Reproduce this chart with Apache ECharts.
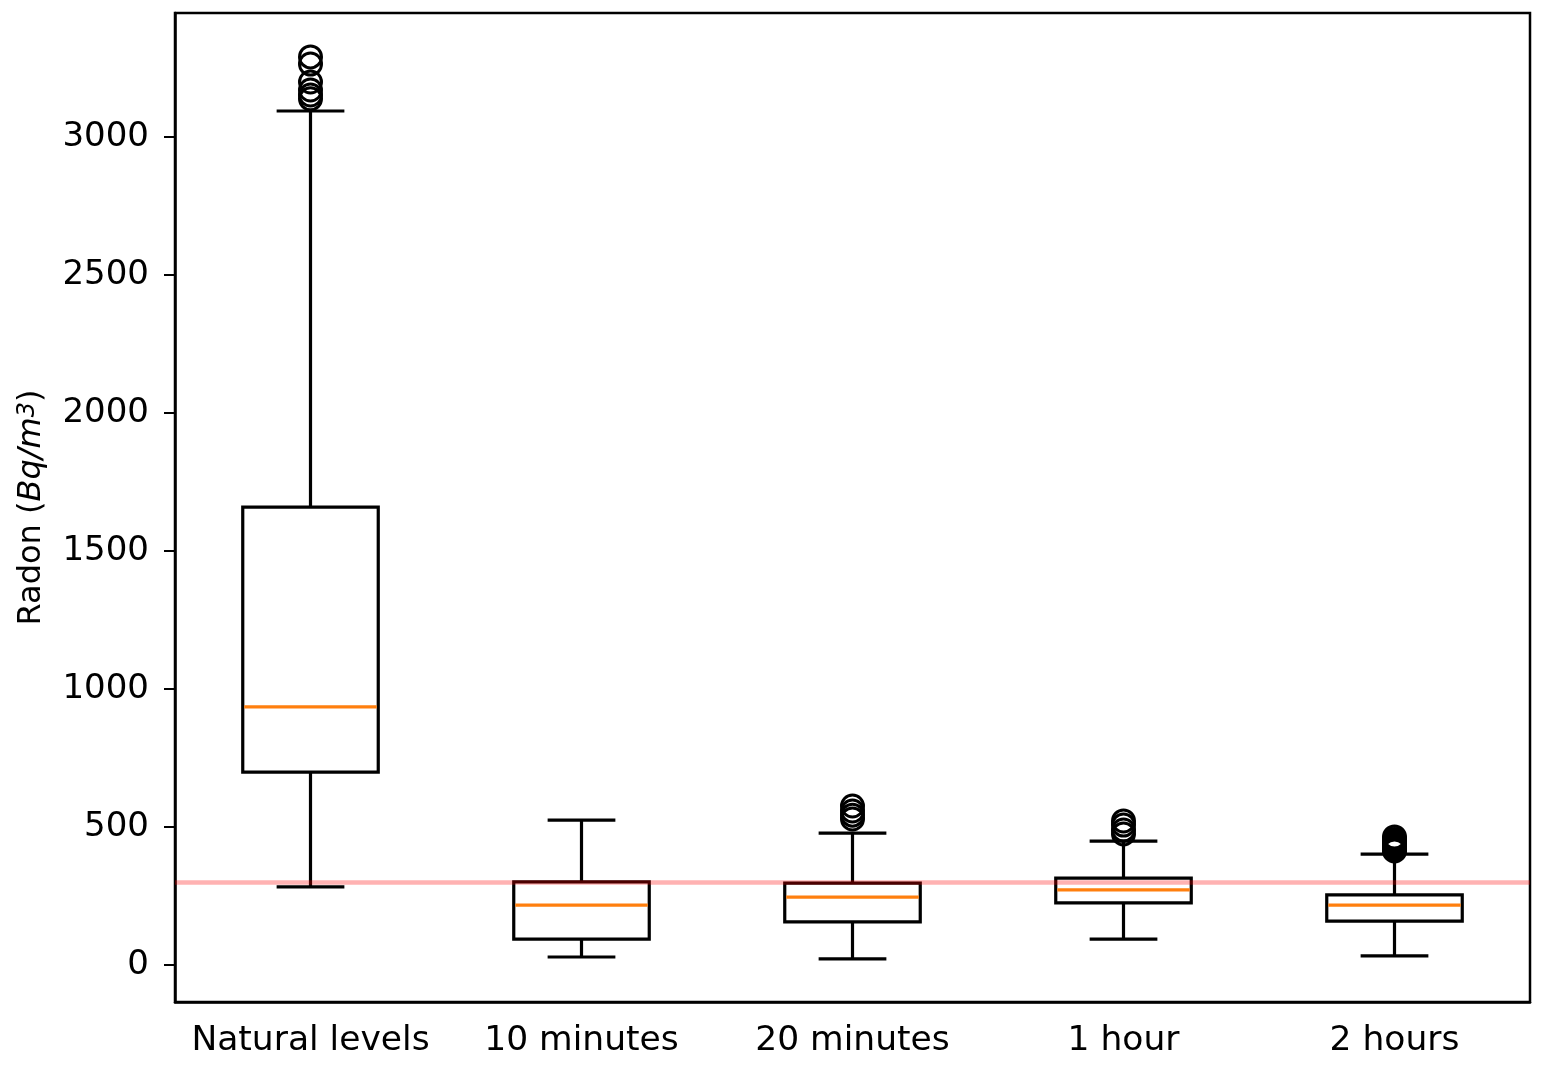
<!DOCTYPE html>
<html>
<head>
<meta charset="utf-8">
<script src="https://cdn.jsdelivr.net/npm/echarts@6/dist/echarts.min.js"></script>
<style>
html,body{margin:0;padding:0;background:#fff;}
#chart{width:1548px;height:1076px;}
</style>
</head>
<body>
<div id="chart"></div>
<script>
const categories = ['Natural levels', '10 minutes', '20 minutes', '1 hour', '2 hours'];
const whiskerLow  = [283, 29, 22, 94, 33];
const q1          = [699, 94, 156, 225, 159];
const median      = [935, 217, 246, 272, 217];
const q3          = [1659, 301, 297, 315, 254];
const whiskerHigh = [3094, 525, 478, 449, 402];
const outliers = [
  [3290, 3264, 3199, 3170, 3152, 3138],
  [],
  [576, 558, 543, 529],
  [522, 507, 489, 475],
  [464, 455, 447, 440, 432, 425, 418, 413]
];
const referenceLevel = 300;
const yTicks = [0, 500, 1000, 1500, 2000, 2500, 3000];

const FONT = 'DejaVu Sans';
const boxData = categories.map((c, i) => [i, whiskerLow[i], q1[i], median[i], q3[i], whiskerHigh[i]]);
const outlierData = [];
outliers.forEach((arr, i) => arr.forEach(v => outlierData.push([i, v])));

const chart = echarts.init(document.getElementById('chart'));
const LW = 3.2;
chart.setOption({
  animation: false,
  backgroundColor: '#fff',
  grid: {left: 175, right: 18, top: 13, bottom: 74, show: true, borderColor: '#000', borderWidth: 2.5, backgroundColor: 'transparent'},
  xAxis: {
    type: 'category',
    data: categories,
    boundaryGap: true,
    axisLine: {onZero: false, lineStyle: {color: '#000', width: 2.5}},
    axisTick: {alignWithLabel: true, interval: 0, length: 11, lineStyle: {color: '#000', width: 2}},
    axisLabel: {interval: 0, color: '#000', fontFamily: FONT, fontSize: 34.5, margin: 22},
    splitLine: {show: false}
  },
  yAxis: {
    type: 'value',
    min: -134,
    max: 3449,
    axisLine: {show: true, lineStyle: {color: '#000', width: 2.5}},
    axisTick: {show: true, length: 11, customValues: yTicks, lineStyle: {color: '#000', width: 2}},
    axisLabel: {color: '#000', fontFamily: FONT, fontSize: 34, margin: 26, customValues: yTicks, formatter: v => String(v)},
    splitLine: {show: false},
    name: '{r|Radon (}{i|Bq/m}{s|3}{r|)}',
    nameLocation: 'middle',
    nameGap: 127,
    nameTextStyle: {
      color: '#000', fontFamily: FONT, fontSize: 32,
      rich: {
        r: {color: '#000', fontFamily: FONT, fontSize: 32},
        i: {color: '#000', fontFamily: FONT, fontSize: 32, fontStyle: 'italic'},
        s: {color: '#000', fontFamily: FONT, fontSize: 24, fontStyle: 'italic', verticalAlign: 'top'}
      }
    }
  },
  series: [
    {
      type: 'custom',
      silent: true,
      data: boxData,
      renderItem: function (params, api) {
        const idx = api.value(0);
        const band = api.size([1, 0])[0];
        const bw = band * 0.5;
        const cw = band * 0.25;
        const pLow = api.coord([idx, api.value(1)]);
        const pQ1 = api.coord([idx, api.value(2)]);
        const pMed = api.coord([idx, api.value(3)]);
        const pQ3 = api.coord([idx, api.value(4)]);
        const pHigh = api.coord([idx, api.value(5)]);
        const x = pQ1[0];
        const blk = {stroke: '#000', lineWidth: LW, fill: null};
        return {
          type: 'group',
          children: [
            {type: 'rect', shape: {x: x - bw / 2, y: pQ3[1], width: bw, height: pQ1[1] - pQ3[1]}, style: blk},
            {type: 'line', shape: {x1: x, y1: pQ1[1], x2: x, y2: pLow[1]}, style: blk},
            {type: 'line', shape: {x1: x, y1: pQ3[1], x2: x, y2: pHigh[1]}, style: blk},
            {type: 'line', shape: {x1: x - cw / 2, y1: pLow[1], x2: x + cw / 2, y2: pLow[1]}, style: blk},
            {type: 'line', shape: {x1: x - cw / 2, y1: pHigh[1], x2: x + cw / 2, y2: pHigh[1]}, style: blk},
            {type: 'line', shape: {x1: x - bw / 2 + 1.5, y1: pMed[1], x2: x + bw / 2 - 1.5, y2: pMed[1]}, style: {stroke: '#ff7f0e', lineWidth: LW}}
          ]
        };
      },
      z: 2
    },
    {
      type: 'scatter',
      silent: true,
      data: outlierData,
      symbol: 'circle',
      symbolSize: 22,
      itemStyle: {color: 'rgba(0,0,0,0)', borderColor: '#000', borderWidth: 3, opacity: 1},
      z: 3,
      markLine: {
        silent: true,
        symbol: 'none',
        label: {show: false},
        lineStyle: {color: 'rgba(255,0,0,0.3)', width: 4.5, type: 'solid', opacity: 1},
        data: [{yAxis: referenceLevel}]
      }
    }
  ]
});
</script>
</body>
</html>
